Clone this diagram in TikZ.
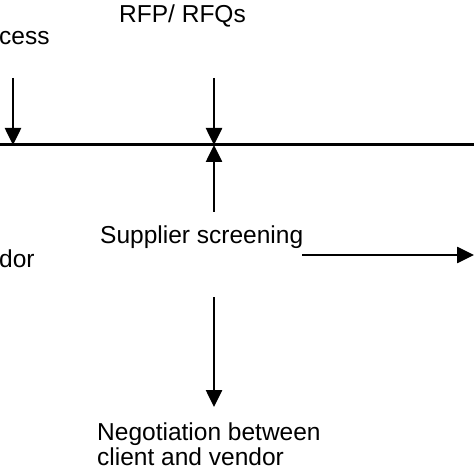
\documentclass[tikz,border=0pt]{standalone}
\usepackage{fontspec}
\setmainfont{Liberation Sans}
\usetikzlibrary{arrows.meta}
\tikzset{
  lbl/.style={inner sep=0pt, font=\fontsize{24.6}{26}\selectfont},
  conn/.style={line width=2.6bp, -{Triangle[length=17bp,width=16bp]}},
  axis/.style={line width=3bp}
}
\begin{document}
\begin{tikzpicture}[x=1bp,y=-1bp]
\useasboundingbox (0,0) rectangle (474,474);
\clip (0,0) rectangle (474,474);
% timeline
\coordinate (tl) at (-5,145);
\coordinate (tr) at (480,145);
\draw[axis] (tl) -- (tr);
% labels
\node[lbl, anchor=base west] (proc) at (-1,45) {cess};
\node[lbl, anchor=base west] (rfp) at (119,23) {RFP/ RFQs};
\node[lbl, anchor=base west] (scr) at (100,243) {Supplier screening};
\node[lbl, anchor=base west] (vend) at (-1,267) {dor};
\node[lbl, anchor=base west] (neg1) at (97,440) {Negotiation between};
\node[lbl, anchor=base west] (neg2) at (97,465) {client and vendor};
% arrow endpoints
\coordinate (p1s) at (13,78);
\coordinate (p1e) at (13,145);
\coordinate (r1s) at (214,78);
\coordinate (r1e) at (214,145);
\coordinate (s1s) at (214,212);
\coordinate (s1e) at (214,145);
\coordinate (n1s) at (214,297);
\coordinate (n1e) at (214,407);
\coordinate (h1s) at (302,255);
\coordinate (h1e) at (474,255);
\draw[conn] (p1s) -- (p1e);
\draw[conn] (r1s) -- (r1e);
\draw[conn] (s1s) -- (s1e);
\draw[conn] (n1s) -- (n1e);
\draw[conn] (h1s) -- (h1e);
\end{tikzpicture}
\end{document}
